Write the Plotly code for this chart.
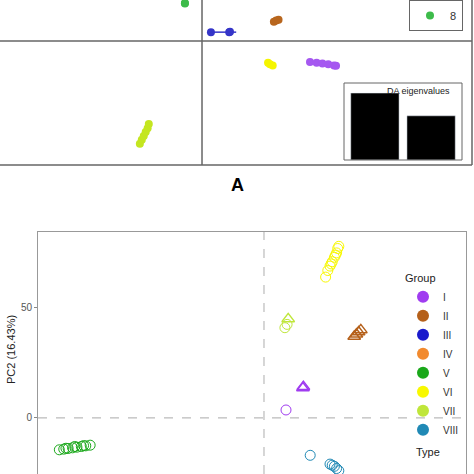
import plotly.graph_objects as go

W = H = 474

# ---- panel A (DAPC scatter, top cropped) ----
a_groups = ["8", "blue", "brown", "yellow", "purple", "lime"]
a_colors = ["#3DBB4A", "#3535C8", "#B8661E", "#F5F500", "#A558F0", "#C4E620"]
a_x = [[-0.44, -0.44],
       [0.23, 0.70, 0.72],
       [1.85, 1.91, 1.97],
       [1.70, 1.75, 1.82],
       [2.78, 2.95, 3.10, 3.25, 3.40, 3.45],
       [-1.60, -1.55, -1.50, -1.45, -1.40, -1.37]]
a_y = [[0.98, 0.97],
       [0.23, 0.23, 0.24],
       [0.50, 0.53, 0.55],
       [-0.56, -0.60, -0.63],
       [-0.54, -0.56, -0.58, -0.60, -0.63, -0.64],
       [-2.65, -2.55, -2.45, -2.35, -2.25, -2.14]]
eig_vals = [1.0, 0.66]

# ---- panel B (PCA) ----
b_groups = ["I", "II", "III", "IV", "V", "VI", "VII", "VIII"]
b_colors = ["#A03CF0", "#B5601A", "#1A1ACC", "#F28A2E", "#1AA81A", "#F8F800", "#BFE63A", "#2089B5"]
b_circ_x = {"I": [10], "V": [-93, -91, -89, -87, -85, -83, -81, -79, -90, -86, -82],
            "VI": [28, 29, 30, 31, 32, 33, 34, 30.5, 32.5, 33.5],
            "VII": [9.5, 10.5], "VIII": [21, 30, 31, 32, 33, 34]}
b_circ_y = {"I": [3.6], "V": [-14.5, -14.2, -13.9, -13.6, -13.3, -13, -12.7, -12.4, -13.8, -13, -12.6],
            "VI": [64, 67, 69, 71, 73, 75, 78, 70, 74, 77],
            "VII": [41, 42.5], "VIII": [-17, -21, -21.5, -22, -23, -24]}
b_tri_x = {"I": [17.7, 17.9], "II": [41, 42, 43, 44], "VII": [11]}
b_tri_y = {"I": [13.6, 14.2], "II": [37, 38, 39, 40], "VII": [45]}

fig = go.Figure()

for g, c, xs, ys in zip(a_groups, a_colors, a_x, a_y):
    fig.add_trace(go.Scatter(x=xs, y=ys, mode="markers", xaxis="x", yaxis="y",
                             marker=dict(color=c, size=8), showlegend=False))
fig.add_trace(go.Scatter(x=[a_x[1][0], a_x[1][2] + 0.16], y=[0.23, 0.23], mode="lines",
                         line=dict(color=a_colors[1], width=1.5), xaxis="x", yaxis="y",
                         showlegend=False))
fig.add_trace(go.Scatter(x=[None], y=[None], mode="markers", name="8", legend="legend2",
                         marker=dict(color=a_colors[0], size=8)))

fig.add_trace(go.Bar(x=[1, 2], y=eig_vals, marker_color="black", width=0.86,
                     xaxis="x3", yaxis="y3", showlegend=False))

for g, c in zip(b_groups, b_colors):
    if g in b_circ_x:
        fig.add_trace(go.Scatter(x=b_circ_x[g], y=b_circ_y[g], mode="markers", xaxis="x2", yaxis="y2",
                                 marker=dict(symbol="circle-open", color=c, size=10, line=dict(width=1)),
                                 showlegend=False))
    if g in b_tri_x:
        fig.add_trace(go.Scatter(x=b_tri_x[g], y=b_tri_y[g], mode="markers", xaxis="x2", yaxis="y2",
                                 marker=dict(symbol="triangle-up-open", color=c, size=11, line=dict(width=1.5)),
                                 showlegend=False))
    fig.add_trace(go.Scatter(x=[None], y=[None], mode="markers", name=g, legend="legend",
                             marker=dict(color=c, size=9)))

gray = "#888888"
fig.update_layout(
    width=W, height=H, margin=dict(l=0, r=0, t=0, b=0, autoexpand=False),
    paper_bgcolor="white", plot_bgcolor="white",
    font=dict(family="Liberation Sans, Arial", color="#333333"),
    xaxis=dict(domain=[0, 472 / W], range=[-5.2, 6.95], visible=False),
    yaxis=dict(domain=[1 - 165 / H, 1], range=[-3.2, 1.06], visible=False),
    xaxis3=dict(domain=[344 / W, 462 / W], range=[0.45, 2.55], visible=False, anchor="y3"),
    yaxis3=dict(domain=[1 - 160 / H, 1 - 83 / H], range=[0, 1.15], visible=False, anchor="x3"),
    xaxis2=dict(domain=[38 / W, 466 / W], range=[-102.7, 91.8], showticklabels=False, anchor="y2",
                showgrid=False, zeroline=False, showline=True, mirror=True,
                linecolor="#999999", ticks="", automargin=False),
    yaxis2=dict(domain=[0, 1 - 232 / H], range=[-25.5, 84.5], tickvals=[0, 50], anchor="x2",
                showgrid=False, zeroline=False, showline=True, mirror=True,
                linecolor="#999999", ticks="outside", ticklen=3, tickcolor=gray,
                tickfont=dict(size=10, color="#555555"), automargin=False),
    legend=dict(x=403 / W, y=1 - 268 / H, xanchor="left", yanchor="top", bgcolor="rgba(0,0,0,0)",
                title=dict(text="Group", font=dict(size=11, color="#222222")),
                font=dict(size=10), tracegroupgap=0, itemsizing="constant"),
    legend2=dict(x=463 / W, y=1, xanchor="right", yanchor="top", bgcolor="white",
                 bordercolor="#666666", borderwidth=1, font=dict(size=11)),
    shapes=[
        dict(type="line", xref="x", yref="paper", x0=0, x1=0, y0=1 - 165 / H, y1=1,
             line=dict(color="#666666", width=1.5)),
        dict(type="line", xref="paper", yref="y", x0=0, x1=472 / W, y0=0, y1=0,
             line=dict(color="#666666", width=1.5)),
        dict(type="line", xref="paper", yref="paper", x0=0, x1=472 / W, y0=1 - 165 / H, y1=1 - 165 / H,
             line=dict(color="#666666", width=1.5)),
        dict(type="line", xref="paper", yref="paper", x0=472 / W, x1=472 / W, y0=1 - 165 / H, y1=1,
             line=dict(color="#666666", width=1.5)),
        dict(type="rect", xref="paper", yref="paper", x0=344 / W, x1=462 / W, y0=1 - 160 / H, y1=1 - 83 / H,
             line=dict(color="#666666", width=1)),
        dict(type="line", xref="x2", yref="y2", x0=0, x1=0, y0=-25.5, y1=84.5,
             line=dict(color="#BBBBBB", width=1.2, dash="dash")),
        dict(type="line", xref="x2", yref="y2", x0=-102.7, x1=91.8, y0=0, y1=0,
             line=dict(color="#BBBBBB", width=1.2, dash="dash")),
    ],
    annotations=[
        dict(text="DA eigenvalues", xref="paper", yref="paper", x=452 / W, y=1 - 84 / H,
             xanchor="right", yanchor="top", showarrow=False, font=dict(size=9, color="#222222")),
        dict(text="<b>A</b>", xref="paper", yref="paper", x=237 / W, y=1 - 185 / H,
             showarrow=False, font=dict(size=18, color="black")),
        dict(text="PC2 (16.43%)", xref="paper", yref="paper", x=11 / W, y=1 - 350 / H,
             xanchor="center", yanchor="middle",
             textangle=-90, showarrow=False, font=dict(size=11, color="#222222")),
        dict(text="Type", xref="paper", yref="paper", x=414 / W, y=1 - 460 / H,
             xanchor="left", showarrow=False, font=dict(size=11, color="#222222")),
    ],
)

fig.write_html("out.html", config={"displayModeBar": False},
               post_script="document.body.style.margin='0';")
